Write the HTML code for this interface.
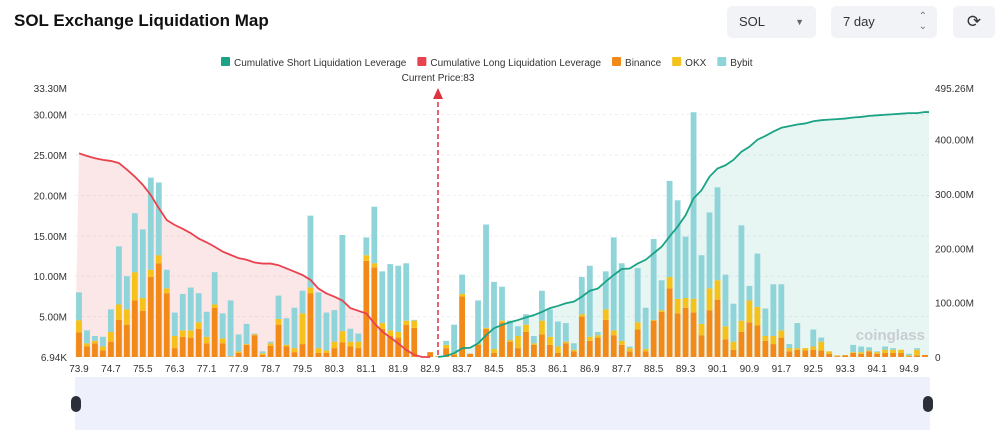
<!DOCTYPE html>
<html><head><meta charset="utf-8"><style>
body{margin:0;width:998px;height:437px;background:#fff;font-family:"Liberation Sans",sans-serif;overflow:hidden;position:relative}
.title{position:absolute;left:14px;top:11px;font-size:17px;font-weight:bold;color:#111}
.sel{position:absolute;top:6px;height:32px;background:#f1f3f6;border-radius:5px;font-size:13px;color:#333;line-height:32px;box-sizing:border-box;padding-left:12px}
</style></head><body>
<div class="title">SOL Exchange Liquidation Map</div>
<div class="sel" style="left:727px;width:89px">SOL<span style="position:absolute;right:12px;font-size:9px;color:#666">▼</span></div>
<div class="sel" style="left:831px;width:106px">7 day<span style="position:absolute;right:10px;top:-1px;font-size:10px;color:#777;line-height:10px;padding-top:7px">⌃<br>⌄</span></div>
<div class="sel" style="left:953px;width:42px;padding:0;text-align:center;font-size:17px">⟳</div>
<svg id="c" width="998" height="437" style="position:absolute;left:0;top:0"></svg>
<script>
const labels=["73.9","74.7","75.5","76.3","77.1","77.9","78.7","79.5","80.3","81.1","81.9","82.9","83.7","84.5","85.3","86.1","86.9","87.7","88.5","89.3","90.1","90.9","91.7","92.5","93.3","94.1","94.9"];
const binance=[3.05,1.3,1.7,0.8,1.9,4.6,4.0,7.0,5.7,9.9,11.6,7.9,1.1,2.5,2.4,3.5,1.7,6.1,1.7,0.05,0.5,1.5,2.7,0.25,1.4,4.0,1.3,0.6,1.6,7.9,0.5,0.5,1.1,1.8,1.3,1.1,11.9,11.1,3.5,2.6,2.4,4.0,3.6,0,0.6,0.1,1.1,0.25,7.5,0.4,1.5,3.5,0.5,4.3,1.9,1.1,3.1,1.5,2.8,1.5,0.5,1.7,0.7,5.0,2.0,2.4,4.6,2.7,1.5,0.7,3.4,0.7,4.5,5.6,8.5,5.4,6.1,5.5,2.7,5.8,7.1,2.2,0.9,3.1,4.3,3.9,2.0,1.6,2.4,0.7,0.9,0.8,0.9,0.8,0.4,0.1,0.2,0.5,0.4,0.7,0.4,0.5,0.5,0.5,0.1,0.2,0.25];
const okx=[1.5,0.4,0.3,0.5,1.2,1.9,1.9,3.5,1.6,0.9,1.0,0.6,1.5,0.8,0.9,0.8,0.8,0.4,0.6,0.05,0.2,0.1,0.1,0.2,0.3,0.7,0.2,0.5,3.8,0.7,0.6,0.3,0.8,1.4,0.6,0.8,0.7,0.5,0.7,0.7,0.7,0.5,0.9,0,0,0,0.4,0.2,0.3,0,0.2,0.1,0.5,0.2,0.2,1.5,0.9,0.2,1.7,1.0,0.8,0.2,0.2,0.3,0.5,0.3,1.3,0.6,0.5,0.4,0.9,0.3,0.1,0.2,1.4,1.8,1.2,1.7,1.4,2.7,2.4,1.6,1.0,1.4,2.7,2.3,0.6,1.0,0.9,0.4,0.2,0.3,0.4,1.1,0.3,0.1,0.05,0.1,0.2,0.1,0.2,0.4,0.4,0.4,0.1,0.7,0];
const bybit=[3.45,1.6,0.6,1.2,2.8,7.2,4.1,7.3,8.5,11.4,9.0,2.3,2.9,4.5,5.3,3.6,3.1,4.0,3.1,6.9,2.1,2.5,0.1,0.25,0.2,2.9,3.3,5.0,2.8,8.9,6.9,4.7,3.9,11.9,1.6,1.0,2.2,7.0,6.4,8.2,8.2,7.1,0.1,0,0,0,0.5,3.55,2.4,0,5.3,12.8,8.3,4.2,2.4,1.2,1.3,0.9,3.7,3.4,3.1,2.3,0.8,4.6,8.8,0.4,4.7,11.5,9.6,0.2,6.7,5.1,10.0,3.7,11.9,12.2,7.6,23.1,8.5,9.4,11.5,6.4,4.7,11.8,1.8,6.6,3.4,6.4,5.7,0.5,3.1,0,2.1,0.5,0,0,0,0.9,0.7,0.4,0.1,0.4,0.2,0,0.2,0.2,0];
const longCum=[375,370,366,363,361,357,345,332,317,298,274,252,243,236,228,218,211,203,194,188,182,179,174,172,172,169,163,157,151,142,126,117,111,104,90,85,80,62,47,36,25,13,4,0,0];
const shortCum=[0,2,7,16,17,25,40,53,59,64,68,73,77,83,90,94,99,102,111,122,126,139,151,162,163,172,179,191,203,222,240,261,292,307,332,347,353,363,378,387,400,407,415,422,425,428,430,434,436,437,438,439,441,442,444,445,446,447,448,449,449,451];
const shortStart=45;
const leftTicks=[["33.30M",33.3],["30.00M",30],["25.00M",25],["20.00M",20],["15.00M",15],["10.00M",10],["5.00M",5],["6.94K",0]];
const rightTicks=[["495.26M",495.26],["400.00M",400],["300.00M",300],["200.00M",200],["100.00M",100],["0",0]];
const legend=[["Cumulative Short Liquidation Leverage","#1aa385"],["Cumulative Long Liquidation Leverage","#e8424f"],["Binance","#f28a1a"],["OKX","#f5c21b"],["Bybit","#8fd4d8"]];

const svg=document.getElementById('c');const NS='http://www.w3.org/2000/svg';
const X0=75,X1=929,Y0=357,Y1=88,N=binance.length,bw=(X1-X0)/N;
const yL=v=>Y0-(Y0-Y1)*v/33.3, yR=v=>Y0-(Y0-Y1)*v/495.26, xC=i=>X0+(i+0.5)*bw;
function mk(t,a,p){const e=document.createElementNS(NS,t);for(const k in a)e.setAttribute(k,a[k]);(p||svg).appendChild(e);return e;}
leftTicks.forEach(t=>{if(t[1]>0&&t[1]<33){const g=mk('line',{x1:X0,x2:X1,y1:yL(t[1]),y2:yL(t[1]),stroke:'#eee','stroke-dasharray':'3,3'});}});
let ptsL=longCum.map((v,i)=>xC(i)+','+yR(v));
const aL=mk('polygon',{points:X0+','+Y0+' '+ptsL.join(' ')+' '+xC(longCum.length-1)+','+Y0,fill:'rgba(232,66,79,0.13)'});

let ptsS=shortCum.map((v,i)=>xC(i+shortStart)+','+yR(v));
const aS=mk('polygon',{points:xC(shortStart)+','+Y0+' '+ptsS.join(' ')+' '+X1+','+yR(shortCum[shortCum.length-1])+' '+X1+','+Y0,fill:'rgba(26,163,133,0.1)'});

for(let i=0;i<N;i++){const x=xC(i)-2.9;let b=0;
 [[binance,'#f28a1a','binance'],[okx,'#f5c21b','okx'],[bybit,'#8fd4d8','bybit']].forEach(s=>{const v=s[0][i];if(v>0){const r=mk('rect',{x:x,width:5.8,y:yL(b+v),height:yL(b)-yL(b+v),fill:s[1]});
 }b+=v;});}
const lL=mk('polyline',{points:ptsL.join(' '),fill:'none',stroke:'#e8424f','stroke-width':1.8});

const lS=mk('polyline',{points:ptsS.join(' ')+' '+X1+','+yR(shortCum[shortCum.length-1]),fill:'none',stroke:'#1aa385','stroke-width':1.8});

const cp=mk('line',{x1:438,x2:438,y1:94,y2:Y0,stroke:'#e0333f','stroke-width':1.5,'stroke-dasharray':'5,3'});

const ar=mk('polygon',{points:'433,99 438,88 443,99',fill:'#e0333f'});

const ct=mk('text',{x:438,y:81,'font-size':10,'text-anchor':'middle',fill:'#333'});ct.textContent='Current Price:83';

leftTicks.forEach(t=>{const e=mk('text',{x:67,y:yL(t[1])+4,'font-size':10,'text-anchor':'end',fill:'#333'});e.textContent=t[0];
 });
rightTicks.forEach(t=>{const e=mk('text',{x:935,y:yR(t[1])+4,'font-size':10,fill:'#333'});e.textContent=t[0];
 });
labels.forEach((l,k)=>{const e=mk('text',{x:xC(k*4),y:372,'font-size':10,'text-anchor':'middle',fill:'#333'});e.textContent=l;
 });
let lx=221;legend.forEach(l=>{const g=mk('g',{});
 mk('rect',{x:lx,y:57,width:9,height:9,rx:1,fill:l[1]},g);const t=mk('text',{x:lx+13,y:66,'font-size':10,fill:'#333'},g);t.textContent=l[0];
 lx+=13+t.getComputedTextLength()+11;});
const wm=mk('text',{x:925,y:340,'font-size':15,'font-weight':'bold','text-anchor':'end',fill:'#c9cdd2'});wm.textContent='coinglass';

const sl=mk('rect',{x:75,y:377,width:855,height:53,fill:'#eef1fc'});
[76,928].forEach(hx=>{const h=mk('rect',{x:hx-5,y:396,width:10,height:16,rx:5,fill:'#2b2f3a'});});
</script>
</body></html>
